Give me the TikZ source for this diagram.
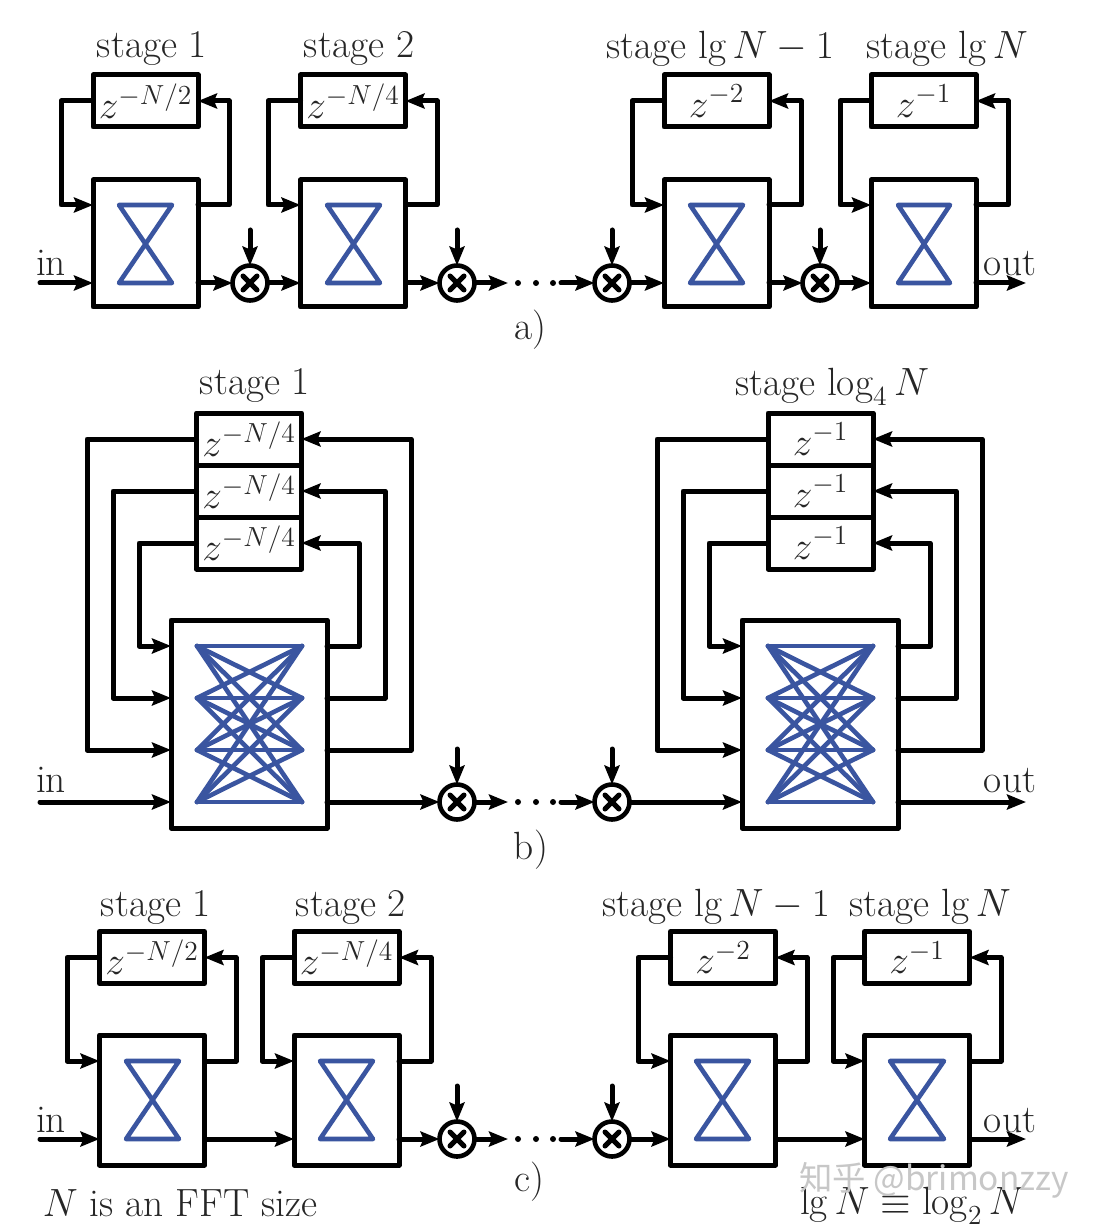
\documentclass[tikz,border=0pt]{standalone}
\usepackage{fix-cm}
\usepackage{fontspec}
\newfontfamily\wmfont{Noto Sans CJK SC}
\usetikzlibrary{arrows.meta,calc}
\def\px{0.02cm}
\tikzset{
  x=0.02cm,y=-0.02cm,
  txt/.style={inner sep=0pt,outer sep=0pt,font=\fontsize{22.4}{26}\selectfont,text=black!85},
  boxed/.style={draw=black,line width=5*0.02cm,fill=white,inner sep=0pt,outer sep=0pt,line join=round},
  dly/.style={boxed,minimum width=105*\px,minimum height=52*\px,font=\fontsize{22.4}{26}\selectfont,text=black!85},
  conn/.style={draw=black,line width=5*0.02cm,line join=round,line cap=round},
  arr/.style={conn,-{Stealth[length=19*\px,width=15*\px,inset=3*\px]}},
  wing/.style={draw=blue1,line width=4.6*0.02cm,line cap=round,line join=round},
  mult/.style={circle,draw=black,line width=4.6*0.02cm,fill=white,minimum size=35*\px,inner sep=0pt,outer sep=0pt},
  mx/.style={draw=black,line width=5*0.02cm,line cap=round},
  dotn/.style={circle,fill=black,minimum size=6*\px,inner sep=0pt,outer sep=0pt},
}
\definecolor{blue1}{HTML}{3A55A0}
% #1 delay, #2 box, #3 left x, #4 right x, #5 port y
\newcommand{\fbloop}[5]{%
  \draw[arr] (#1.west) -| (#3,#5) -- (#2.west |- 0,#5);
  \draw[arr] (#2.east |- 0,#5) -| (#4,0 |- #1.east) -- (#1.east);
}
\newcommand{\glass}[5]{% name, x0,x1,y0,y1
  \draw[wing] (#2,#4) -- (#3,#4) -- (#2,#5) -- (#3,#5) -- cycle;
}
\newcommand{\multn}[3]{% name, x, y
  \node[mult] (#1) at (#2,#3) {};
  \draw[mx] ($(#1)+(-7,-7)$) -- ($(#1)+(7,7)$);
  \draw[mx] ($(#1)+(-7,7)$) -- ($(#1)+(7,-7)$);
  \coordinate (#1top) at (#2,#3-53);
  \draw[arr] (#1top) -- (#1.north);
}
\newcommand{\dotrow}[2]{% prefix, y
  \node[dotn] (#1a) at (518,#2) {};
  \node[dotn] (#1b) at (536,#2) {};
  \node[dotn] (#1c) at (553,#2) {};
  \coordinate (#1s) at (508,#2);
  \coordinate (#1e) at (561,#2);
}
\begin{document}
\begin{tikzpicture}
\useasboundingbox (0,0) rectangle (1095,1229);
\fill[white] (0,0) rectangle (1095,1229);
% ---------- panel a
\node[boxed,minimum width=105*\px,minimum height=127*\px] (a1) at (145.5,243.5) {};
\node[boxed,minimum width=105*\px,minimum height=127*\px] (a2) at (353,243.5) {};
\node[boxed,minimum width=105*\px,minimum height=127*\px] (a3) at (716.5,243.5) {};
\node[boxed,minimum width=105*\px,minimum height=127*\px] (a4) at (923.5,243.5) {};
\node[dly] (da1) at (145.5,101) {$z^{-N/2}$};
\node[dly] (da2) at (353,101) {$z^{-N/4}$};
\node[dly] (da3) at (716.5,101) {$z^{-2}$};
\node[dly] (da4) at (923.5,101) {$z^{-1}$};
\fbloop{da1}{a1}{61}{229}{205}
\fbloop{da2}{a2}{268}{437}{205}
\fbloop{da3}{a3}{632}{801}{205}
\fbloop{da4}{a4}{840}{1008}{205}
\glass{ga1}{119}{172}{205}{283}
\glass{ga2}{327}{380}{205}{283}
\glass{ga3}{690}{743}{205}{283}
\glass{ga4}{898}{950}{205}{283}
\multn{ma1}{250}{283}
\multn{ma2}{457}{283}
\multn{ma3}{612}{283}
\multn{ma4}{820}{283}
\dotrow{ad}{283}
\coordinate (ain) at (40,283);
\coordinate (aout) at (1026,283);
\draw[arr] (ain) -- (a1.west |- ain);
\draw[arr] (a1.east |- ain) -- (ma1.west);
\draw[arr] (ma1.east) -- (a2.west |- ain);
\draw[arr] (a2.east |- ain) -- (ma2.west);
\draw[arr] (ma2.east) -- (ads);
\draw[arr] (ade) -- (ma3.west);
\draw[arr] (ma3.east) -- (a3.west |- ain);
\draw[arr] (a3.east |- ain) -- (ma4.west);
\draw[arr] (ma4.east) -- (a4.west |- ain);
\draw[arr] (a4.east |- ain) -- (aout);
\node[txt] (ta1) at (152,49) {stage 1};
\node[txt] (ta2) at (359,49) {stage 2};
\node[txt] (ta3) at (720,49) {stage $\lg N-1$};
\node[txt] (ta4) at (947,49) {stage $\lg N$};
\node[txt] (tain) at (51,263) {in};
\node[txt] (taout) at (1010,264) {out};
\node[txt] (tacap) at (530,330) {a)};
% ---------- panel b
\node[boxed,minimum width=156*\px,minimum height=208*\px] (b1) at (249,724) {};
\node[boxed,minimum width=156*\px,minimum height=208*\px] (b2) at (820,724) {};
\node[dly] (db11) at (249,439) {$z^{-N/4}$};
\node[dly] (db12) at (249,491) {$z^{-N/4}$};
\node[dly] (db13) at (249,543) {$z^{-N/4}$};
\node[dly] (db21) at (820.5,439) {$z^{-1}$};
\node[dly] (db22) at (820.5,491) {$z^{-1}$};
\node[dly] (db23) at (820.5,543) {$z^{-1}$};
\fbloop{db13}{b1}{139}{359}{646}
\fbloop{db12}{b1}{113}{385}{698}
\fbloop{db11}{b1}{87}{411}{750}
\fbloop{db23}{b2}{709}{930}{646}
\fbloop{db22}{b2}{683}{956}{698}
\fbloop{db21}{b2}{657}{982}{750}
\foreach \xo/\xi in {197/302,768/873}{
  \foreach \yl in {646,698,750,802}{
    \foreach \yr in {646,698,750,802}{
      \draw[wing] (\xo,\yl) -- (\xi,\yr);
    }
  }
}
\multn{mb1}{457}{802}
\multn{mb2}{612}{802}
\dotrow{bd}{802}
\coordinate (bin) at (40,802);
\coordinate (bout) at (1026,802);
\draw[arr] (bin) -- (b1.west |- bin);
\draw[arr] (b1.east |- bin) -- (mb1.west);
\draw[arr] (mb1.east) -- (bds);
\draw[arr] (bde) -- (mb2.west);
\draw[arr] (mb2.east) -- (b2.west |- bin);
\draw[arr] (b2.east |- bin) -- (bout);
\node[txt] (tb1) at (255,386) {stage 1};
\node[txt] (tb2) at (832,387) {stage $\log_4 N$};
\node[txt] (tbin) at (51,780) {in};
\node[txt] (tbout) at (1010,781) {out};
\node[txt] (tbcap) at (531,850) {b)};
% ---------- panel c
\node[boxed,minimum width=105*\px,minimum height=130*\px] (c1) at (152,1100) {};
\node[boxed,minimum width=105*\px,minimum height=130*\px] (c2) at (346.5,1100) {};
\node[boxed,minimum width=105*\px,minimum height=130*\px] (c3) at (723,1100) {};
\node[boxed,minimum width=105*\px,minimum height=130*\px] (c4) at (917,1100) {};
\node[dly] (dc1) at (152,957.5) {$z^{-N/2}$};
\node[dly] (dc2) at (346.5,957.5) {$z^{-N/4}$};
\node[dly] (dc3) at (723,957.5) {$z^{-2}$};
\node[dly] (dc4) at (917,957.5) {$z^{-1}$};
\fbloop{dc1}{c1}{67}{236}{1061}
\fbloop{dc2}{c2}{262}{431}{1061}
\fbloop{dc3}{c3}{638}{807}{1061}
\fbloop{dc4}{c4}{833}{1001}{1061}
\glass{gc1}{126}{179}{1061}{1139}
\glass{gc2}{320}{373}{1061}{1139}
\glass{gc3}{696}{749}{1061}{1139}
\glass{gc4}{890}{944}{1061}{1139}
\multn{mc1}{457}{1139}
\multn{mc2}{612}{1139}
\dotrow{cd}{1139}
\coordinate (cin) at (40,1139);
\coordinate (cout) at (1026,1139);
\draw[arr] (cin) -- (c1.west |- cin);
\draw[arr] (c1.east |- cin) -- (c2.west |- cin);
\draw[arr] (c2.east |- cin) -- (mc1.west);
\draw[arr] (mc1.east) -- (cds);
\draw[arr] (cde) -- (mc2.west);
\draw[arr] (mc2.east) -- (c3.west |- cin);
\draw[arr] (c3.east |- cin) -- (c4.west |- cin);
\draw[arr] (c4.east |- cin) -- (cout);
\node[txt] (tc1) at (156,907) {stage 1};
\node[txt] (tc2) at (351,907) {stage 2};
\node[txt] (tc3) at (716,907) {stage $\lg N-1$};
\node[txt] (tc4) at (930,907) {stage $\lg N$};
\node[txt] (tcin) at (51,1120) {in};
\node[txt] (tcout) at (1010,1121) {out};
\node[txt] (tccap) at (529,1182) {c)};
\node[txt] (tnote1) at (180,1203) {$N$ is an FFT size};
\node[txt] (tnote2) at (912,1206) {$\lg N\equiv\log_2 N$};
\node[inner sep=0pt,text=black!22,font=\wmfont\fontsize{19}{21}\selectfont] (wm) at (934,1180) {知乎 @brimonzzy};
\end{tikzpicture}
\end{document}
